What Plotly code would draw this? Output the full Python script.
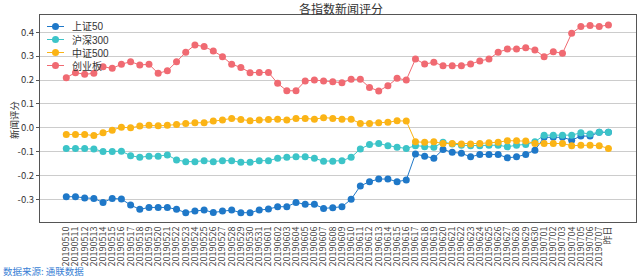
import plotly.graph_objects as go

title = "各指数新闻评分"
y_title = "新闻评分"
source_note = "数据来源: 通联数据"

dates = (["201905%02d" % d for d in range(10, 32)]
         + ["201906%02d" % d for d in range(1, 31)]
         + ["201907%02d" % d for d in range(1, 8)]
         + ["昨日"])

sz50 = [-0.289, -0.289, -0.294, -0.296, -0.313, -0.296, -0.299, -0.324, -0.342, -0.334,
        -0.334, -0.334, -0.342, -0.356, -0.349, -0.345, -0.355, -0.349, -0.345, -0.356,
        -0.356, -0.345, -0.341, -0.331, -0.331, -0.313, -0.321, -0.321, -0.338, -0.335,
        -0.331, -0.300, -0.244, -0.226, -0.215, -0.215, -0.226, -0.219, -0.110, -0.119,
        -0.128, -0.091, -0.103, -0.107, -0.122, -0.112, -0.112, -0.112, -0.126, -0.122,
        -0.112, -0.094, -0.040, -0.040, -0.040, -0.052, -0.035, -0.035, -0.019, -0.019]

hs300 = [-0.087, -0.087, -0.087, -0.089, -0.100, -0.100, -0.098, -0.117, -0.124, -0.119,
         -0.119, -0.114, -0.135, -0.142, -0.142, -0.138, -0.142, -0.138, -0.138, -0.145,
         -0.145, -0.138, -0.138, -0.128, -0.124, -0.122, -0.122, -0.128, -0.140, -0.140,
         -0.138, -0.124, -0.089, -0.070, -0.066, -0.075, -0.082, -0.087, -0.075, -0.080,
         -0.082, -0.061, -0.068, -0.073, -0.075, -0.075, -0.073, -0.073, -0.080, -0.073,
         -0.070, -0.059, -0.031, -0.031, -0.031, -0.031, -0.021, -0.026, -0.019, -0.019]

zz500 = [-0.028, -0.028, -0.028, -0.033, -0.021, -0.010, 0.002, 0.000, 0.007, 0.010,
         0.008, 0.010, 0.014, 0.018, 0.021, 0.021, 0.028, 0.032, 0.039, 0.035,
         0.029, 0.032, 0.035, 0.036, 0.032, 0.039, 0.039, 0.036, 0.042, 0.039,
         0.036, 0.036, 0.018, 0.018, 0.021, 0.023, 0.029, 0.028, -0.059, -0.061,
         -0.059, -0.066, -0.066, -0.068, -0.068, -0.066, -0.063, -0.061, -0.054, -0.054,
         -0.056, -0.066, -0.066, -0.066, -0.066, -0.075, -0.073, -0.073, -0.075, -0.087]

cyb = [0.210, 0.231, 0.224, 0.228, 0.256, 0.249, 0.266, 0.277, 0.263, 0.266,
       0.228, 0.239, 0.277, 0.316, 0.347, 0.340, 0.322, 0.298, 0.266, 0.253,
       0.231, 0.232, 0.232, 0.186, 0.155, 0.155, 0.196, 0.200, 0.196, 0.193,
       0.189, 0.203, 0.203, 0.169, 0.154, 0.176, 0.207, 0.200, 0.288, 0.267,
       0.274, 0.260, 0.260, 0.260, 0.267, 0.280, 0.288, 0.316, 0.330, 0.330,
       0.335, 0.326, 0.298, 0.319, 0.312, 0.396, 0.424, 0.428, 0.424, 0.431]

series_names = ["上证50", "沪深300", "中证500", "创业板"]
series_values = [sz50, hs300, zz500, cyb]
series_colors = ["#1f78c8", "#3cc4c8", "#fbb416", "#f06a72"]

y_ticks = [-0.3, -0.2, -0.1, 0.0, 0.1, 0.2, 0.3, 0.4]
y_ticklabels = ["-0.3", "-0.2", "-0.1", "0.0", "0.1", "0.2", "0.3", "0.4"]

FONT = "Noto Sans CJK SC, Noto Sans, DejaVu Sans, sans-serif"
LEG_FONT = "Liberation Sans, Noto Sans CJK SC, sans-serif"

W, H = 640, 279
L, R, T, B = 40, 4, 15, 57
PW, PH = W - L - R, H - T - B


def px(xp):
    return (xp - L) / PW


def py(yp):
    return (H - B - yp) / PH


fig = go.Figure()
for name, vals, col in zip(series_names, series_values, series_colors):
    fig.add_trace(go.Scatter(
        x=dates, y=vals, name=name, mode="lines+markers",
        line=dict(color=col, width=1),
        marker=dict(color=col, size=7, line=dict(width=0)),
        showlegend=False,
    ))

# manual compact legend
shapes = []
annotations = []
row0, row_step = 26.5, 13.0
legend_rows = [row0 + row_step * k for k in range(len(series_names))]
for name, col, ry in zip(series_names, series_colors, legend_rows):
    shapes.append(dict(type="line", xref="paper", yref="paper",
                       x0=px(47), x1=px(64), y0=py(ry), y1=py(ry),
                       line=dict(color=col, width=1)))
    shapes.append(dict(type="circle", xref="paper", yref="paper",
                       xsizemode="pixel", ysizemode="pixel",
                       xanchor=px(55.5), yanchor=py(ry),
                       x0=-3.5, x1=3.5, y0=-3.5, y1=3.5,
                       fillcolor=col, line=dict(width=0)))
    annotations.append(dict(text=name, xref="paper", yref="paper",
                            x=px(71), y=py(ry), xanchor="left", yanchor="middle",
                            height=11, valign="middle", borderpad=0,
                            showarrow=False,
                            font=dict(size=10, color="#333", family=LEG_FONT)))

annotations.append(dict(text=y_title, xref="paper", yref="paper",
                        x=px(14), y=py(120), xanchor="center", yanchor="middle",
                        textangle=-90, showarrow=False,
                        font=dict(size=9.5, color="#333", family=FONT)))
annotations.append(dict(text=source_note, xref="paper", yref="paper",
                        x=px(2), y=py(271), xanchor="left", yanchor="middle",
                        showarrow=False, borderpad=0,
                        font=dict(size=9.5, color="#3a7fd5", family=FONT)))
annotations.append(dict(text=title, xref="paper", yref="paper",
                        x=px(341), y=py(8), xanchor="center", yanchor="middle",
                        showarrow=False,
                        font=dict(size=12, color="#333", family=FONT)))

fig.update_layout(
    width=W, height=H,
    margin=dict(l=L, r=R, t=T, b=B, pad=0),
    paper_bgcolor="white", plot_bgcolor="white",
    shapes=shapes, annotations=annotations,
    showlegend=False,
    font=dict(family=FONT, color="#333"),
)
fig.update_xaxes(
    type="category", categoryorder="array", categoryarray=dates,
    tickmode="array", tickvals=dates, ticktext=dates,
    range=[-2.86, 62.0], tickangle=-90,
    tickfont=dict(size=9, color="#444", family=FONT),
    showgrid=False, showline=True, linecolor="#555", linewidth=1, mirror=True,
    ticks="", zeroline=False, automargin=False,
)
fig.update_yaxes(
    range=[-0.395, 0.4725], tickvals=y_ticks, ticktext=y_ticklabels,
    tickfont=dict(size=9.5, color="#333", family=FONT),
    showgrid=True, gridcolor="#cccccc", gridwidth=1,
    showline=True, linecolor="#555", linewidth=1, mirror=True,
    ticks="outside", ticklen=3, tickcolor="#555",
    zeroline=False, automargin=False,
)

fig.write_html("out.html")
